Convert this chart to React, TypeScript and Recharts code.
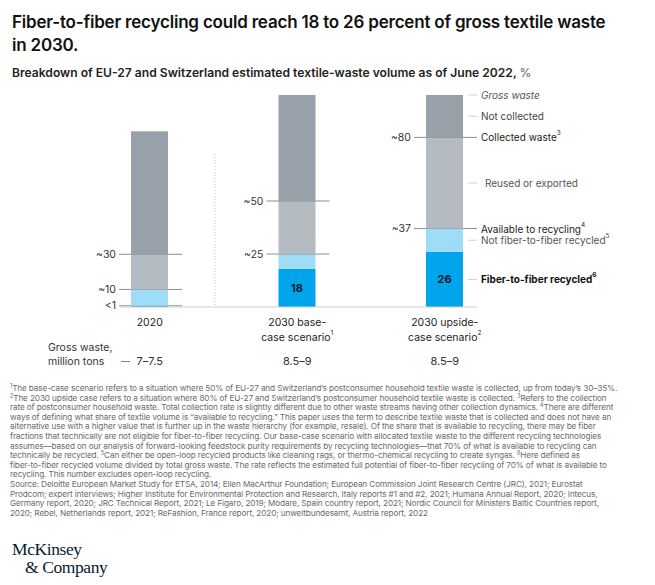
import React from 'react'
import { BarChart, Bar, XAxis, YAxis, ReferenceLine } from 'recharts'

const categories = ['2020', '2030 base', '2030 upside']
const categoryTitles = [['2020'], ['2030 base-', 'case scenario'], ['2030 upside-', 'case scenario']]
const categoryNotes = ['', '1', '2']
const grossWasteRange = ['7–7.5', '8.5–9', '8.5–9']
// midpoints of the gross waste ranges, million tons
const grossWasteMid = [7.25, 8.75, 8.75]

// cumulative shares of gross waste, %
const collectedShare = [30, 50, 80]
const availableShare = [10, 25, 37]
const fiberShare = [0.7, 18, 26]

const collectedLabels = ['~30', '~50', '~80']
const availableLabels = ['~10', '~25', '~37']
const fiberLabels = ['<1', '18', '26']

const footnotes = [
  [['1', 'The base-case scenario refers to a situation where 50% of EU-27 and Switzerland’s postconsumer household textile waste is collected, up from today’s 30–35%.']],
  [['2', 'The 2030 upside case refers to a situation where 80% of EU-27 and Switzerland’s postconsumer household textile waste is collected. '], ['3', 'Refers to the collection']],
  [['', 'rate of postconsumer household waste. Total collection rate is slightly different due to other waste streams having other collection dynamics. '], ['4', 'There are different']],
  [['', 'ways of defining what share of textile volume is “available to recycling.” This paper uses the term to describe textile waste that is collected and does not have an']],
  [['', 'alternative use with a higher value that is further up in the waste hierarchy (for example, resale). Of the share that is available to recycling, there may be fiber']],
  [['', 'fractions that technically are not eligible for fiber-to-fiber recycling. Our base-case scenario with allocated textile waste to the different recycling technologies']],
  [['', 'assumes—based on our analysis of forward-looking feedstock purity requirements by recycling technologies—that 70% of what is available to recycling can']],
  [['', 'technically be recycled. '], ['5', 'Can either be open-loop recycled products like cleaning rags, or thermo-chemical recycling to create syngas. '], ['6', 'Here defined as']],
  [['', 'fiber-to-fiber recycled volume divided by total gross waste. The rate reflects the estimated full potential of fiber-to-fiber recycling of 70% of what is available to']],
  [['', 'recycling. This number excludes open-loop recycling.']],
  [['', 'Source: Deloitte European Market Study for ETSA, 2014; Ellen MacArthur Foundation; European Commission Joint Research Centre (JRC), 2021; Eurostat']],
  [['', 'Prodcom; expert interviews; Higher Institute for Environmental Protection and Research, Italy reports #1 and #2, 2021; Humana Annual Report, 2020; Intecus,']],
  [['', 'Germany report, 2020; JRC Technical Report, 2021; Le Figaro, 2019; Modare, Spain country report, 2021; Nordic Council for Ministers Baltic Countries report,']],
  [['', '2020; Rebel, Netherlands report, 2021; ReFashion, France report, 2020; unweltbundesamt, Austria report, 2022']],
]

const maxGross = Math.max(...grossWasteMid)
const data = categories.map((name, i) => {
  const k = grossWasteMid[i] / maxGross
  return {
    name,
    fiber: fiberShare[i] * k,
    notFiber: (availableShare[i] - fiberShare[i]) * k,
    reused: (collectedShare[i] - availableShare[i]) * k,
    notCollected: (100 - collectedShare[i]) * k,
  }
})

const COLORS: Record<string, string> = {
  notCollected: '#98a1a9',
  reused: '#b4bcc2',
  notFiber: '#9fdcf7',
  fiber: '#00a5ec',
}

const FONT = 'Inter, "Liberation Sans", Arial, sans-serif'
const LINE = '#8e8e8e'
const TICK = '#d0d0d0'

// labels on the left of each bar, drawn at the top edge of a segment
const boundaryLabels: Record<string, string[]> = {
  reused: collectedLabels,
  notFiber: availableLabels,
}
// legend drawn next to the last bar
const segmentNames: Record<string, [string, string, string, boolean]> = {
  notCollected: ['Not collected', '', '#444', false],
  reused: ['Reused or exported', '', '#555', false],
  notFiber: ['Not fiber-to-fiber recycled', '5', '#555', false],
  fiber: ['Fiber-to-fiber recycled', '6', '#111', true],
}
const boundaryNames: Record<string, [string, string]> = {
  reused: ['Collected waste', '3'],
  notFiber: ['Available to recycling', '4'],
}

function Sup({ n }: { n: string }) {
  if (!n) return null
  return <tspan fontSize={6.5} dy={-4}>{n}</tspan>
}

function makeShape(key: string) {
  return (props: any) => {
    const { x, y, width, height, fill } = props
    const i = categories.indexOf(props.payload?.name ?? props.name)
    const right = x + width
    const last = i === categories.length - 1
    const out: React.ReactNode[] = [
      <rect key="r" x={x} y={y} width={width} height={height} fill={fill} />,
    ]

    let leftLabel = boundaryLabels[key]?.[i]
    if (key === 'fiber') {
      if (height > 14) {
        out.push(
          <text key="v" x={x + width / 2} y={y + height / 2} textAnchor="middle" dominantBaseline="central"
            fontFamily={FONT} fontSize={11} fontWeight={700} fill="#051c2c">{fiberLabels[i]}</text>
        )
      } else {
        leftLabel = fiberLabels[i]
      }
    }

    if (leftLabel) {
      out.push(<line key="bl" x1={x - 12} x2={right + 14} y1={y} y2={y} stroke={LINE} strokeWidth={1} />)
      out.push(
        <text key="bt" x={x - 15} y={y} textAnchor="end" dominantBaseline="central"
          fontFamily={FONT} fontSize={10.5} fill="#333">{leftLabel}</text>
      )
    }

    if (last) {
      const bn = boundaryNames[key]
      if (bn) {
        out.push(
          <text key="bn" x={right + 18} y={y} dominantBaseline="central" fontFamily={FONT} fontSize={10} fill="#222">
            {bn[0]}<Sup n={bn[1]} />
          </text>
        )
      }
      if (key === 'notCollected') {
        out.push(<line key="gt" x1={right + 5} x2={right + 14} y1={y} y2={y} stroke={TICK} />)
        out.push(
          <text key="gn" x={right + 18} y={y} dominantBaseline="central" fontFamily={FONT} fontSize={10}
            fontStyle="italic" fill="#555">Gross waste</text>
        )
      }
      const [name, note, color, bold] = segmentNames[key]
      const cy = y + height / 2
      const indent = key === 'reused' ? 4 : 0
      out.push(<line key="st" x1={right + 5} x2={right + 14} y1={cy} y2={cy} stroke={TICK} />)
      out.push(
        <text key="sn" x={right + 18 + indent} y={cy} dominantBaseline="central" fontFamily={FONT} fontSize={10}
          fontWeight={bold ? 700 : 400} fill={color}>
          {name}<Sup n={note} />
        </text>
      )
    }
    return <g>{out}</g>
  }
}

function CategoryTick(props: any) {
  const { x, y, payload } = props
  const i = categories.indexOf(payload.value)
  const lines = categoryTitles[i]
  return (
    <g>
      {lines.map((t, j) => (
        <text key={j} x={x} y={y + 15 + j * 15} textAnchor="middle" dominantBaseline="central"
          fontFamily={FONT} fontSize={10.5} fill="#222">
          {t}{j === lines.length - 1 ? <Sup n={categoryNotes[i]} /> : null}
        </text>
      ))}
      <text x={x} y={y + 54} textAnchor="middle" dominantBaseline="central" fontFamily={FONT} fontSize={11} fill="#333">
        {grossWasteRange[i]}
      </text>
    </g>
  )
}

export default function App() {
  return (
    <div style={{ position: 'relative', width: 655, height: 585, background: '#fff', overflow: 'hidden', fontFamily: FONT }}>
      <style>{'body{margin:0}'}</style>
      <div style={{ position: 'absolute', left: 12, top: 11, fontSize: 17, lineHeight: '23px', fontWeight: 600, color: '#111', letterSpacing: -0.2 }}>
        Fiber-to-fiber recycling could reach 18 to 26 percent of gross textile waste<br />in 2030.
      </div>
      <div style={{ position: 'absolute', left: 12, top: 65, fontSize: 12.1, lineHeight: '15px', fontWeight: 600, color: '#222', whiteSpace: 'nowrap' }}>
        Breakdown of EU-27 and Switzerland estimated textile-waste volume as of June 2022, <span style={{ fontWeight: 400, color: '#666' }}>%</span>
      </div>

      <div style={{ position: 'absolute', left: 0, top: 85 }}>
        <BarChart width={655} height={290} data={data} margin={{ top: 10, right: 136.5, bottom: 8, left: 76 }} barSize={37}>
          <YAxis hide type="number" domain={[0, 100]} />
          <XAxis dataKey="name" axisLine={false} tickLine={false} tickSize={0} tickMargin={0} interval={0} height={60} tick={<CategoryTick />} />
          <ReferenceLine x={categories[1]} position="start" stroke="#bbb"
            shape={(p: any) => <line x1={p.x1 - 8.5} x2={p.x2 - 8.5} y1={p.y1 - 2} y2={p.y2 + 58} stroke="#c4c4c4" strokeDasharray="1 2" />} />
          <ReferenceLine y={0} stroke="#ccc"
            shape={(p: any) => <line x1={p.x1 + 44} x2={p.x2 - 41.5} y1={p.y1} y2={p.y2} stroke="#cfcfcf" />} />
          {(['fiber', 'notFiber', 'reused', 'notCollected'] as const).map(k => (
            <Bar key={k} dataKey={k} stackId="a" fill={COLORS[k]} isAnimationActive={false} shape={makeShape(k)} />
          ))}
        </BarChart>
      </div>

      <div style={{ position: 'absolute', left: 48, top: 341, fontSize: 10.5, lineHeight: '14px', color: '#333' }}>
        Gross waste,<br />million tons
      </div>
      <div style={{ position: 'absolute', left: 121, top: 361, width: 9, borderTop: '1px solid #888' }} />

      <div style={{ position: 'absolute', left: 10, top: 384, fontSize: 8.2, lineHeight: '9.6px', letterSpacing: -0.12, color: '#6b6b6b', whiteSpace: 'nowrap' }}>
        {footnotes.map((line, i) => (
          <div key={i}>
            {line.map(([n, t], j) => (
              <span key={j}>{n ? <sup style={{ fontSize: 5.5, verticalAlign: 'top', lineHeight: 0, position: 'relative', top: 2 }}>{n}</sup> : null}{t}</span>
            ))}
          </div>
        ))}
      </div>

      <div style={{ position: 'absolute', left: 12, top: 540, fontFamily: '"Liberation Serif", "DejaVu Serif", serif', fontSize: 17.5, lineHeight: '18px', color: '#051c2c', letterSpacing: -0.4, whiteSpace: 'nowrap' }}>
        <div>McKinsey</div>
        <div style={{ paddingLeft: 13 }}>&amp; Company</div>
      </div>
    </div>
  )
}
